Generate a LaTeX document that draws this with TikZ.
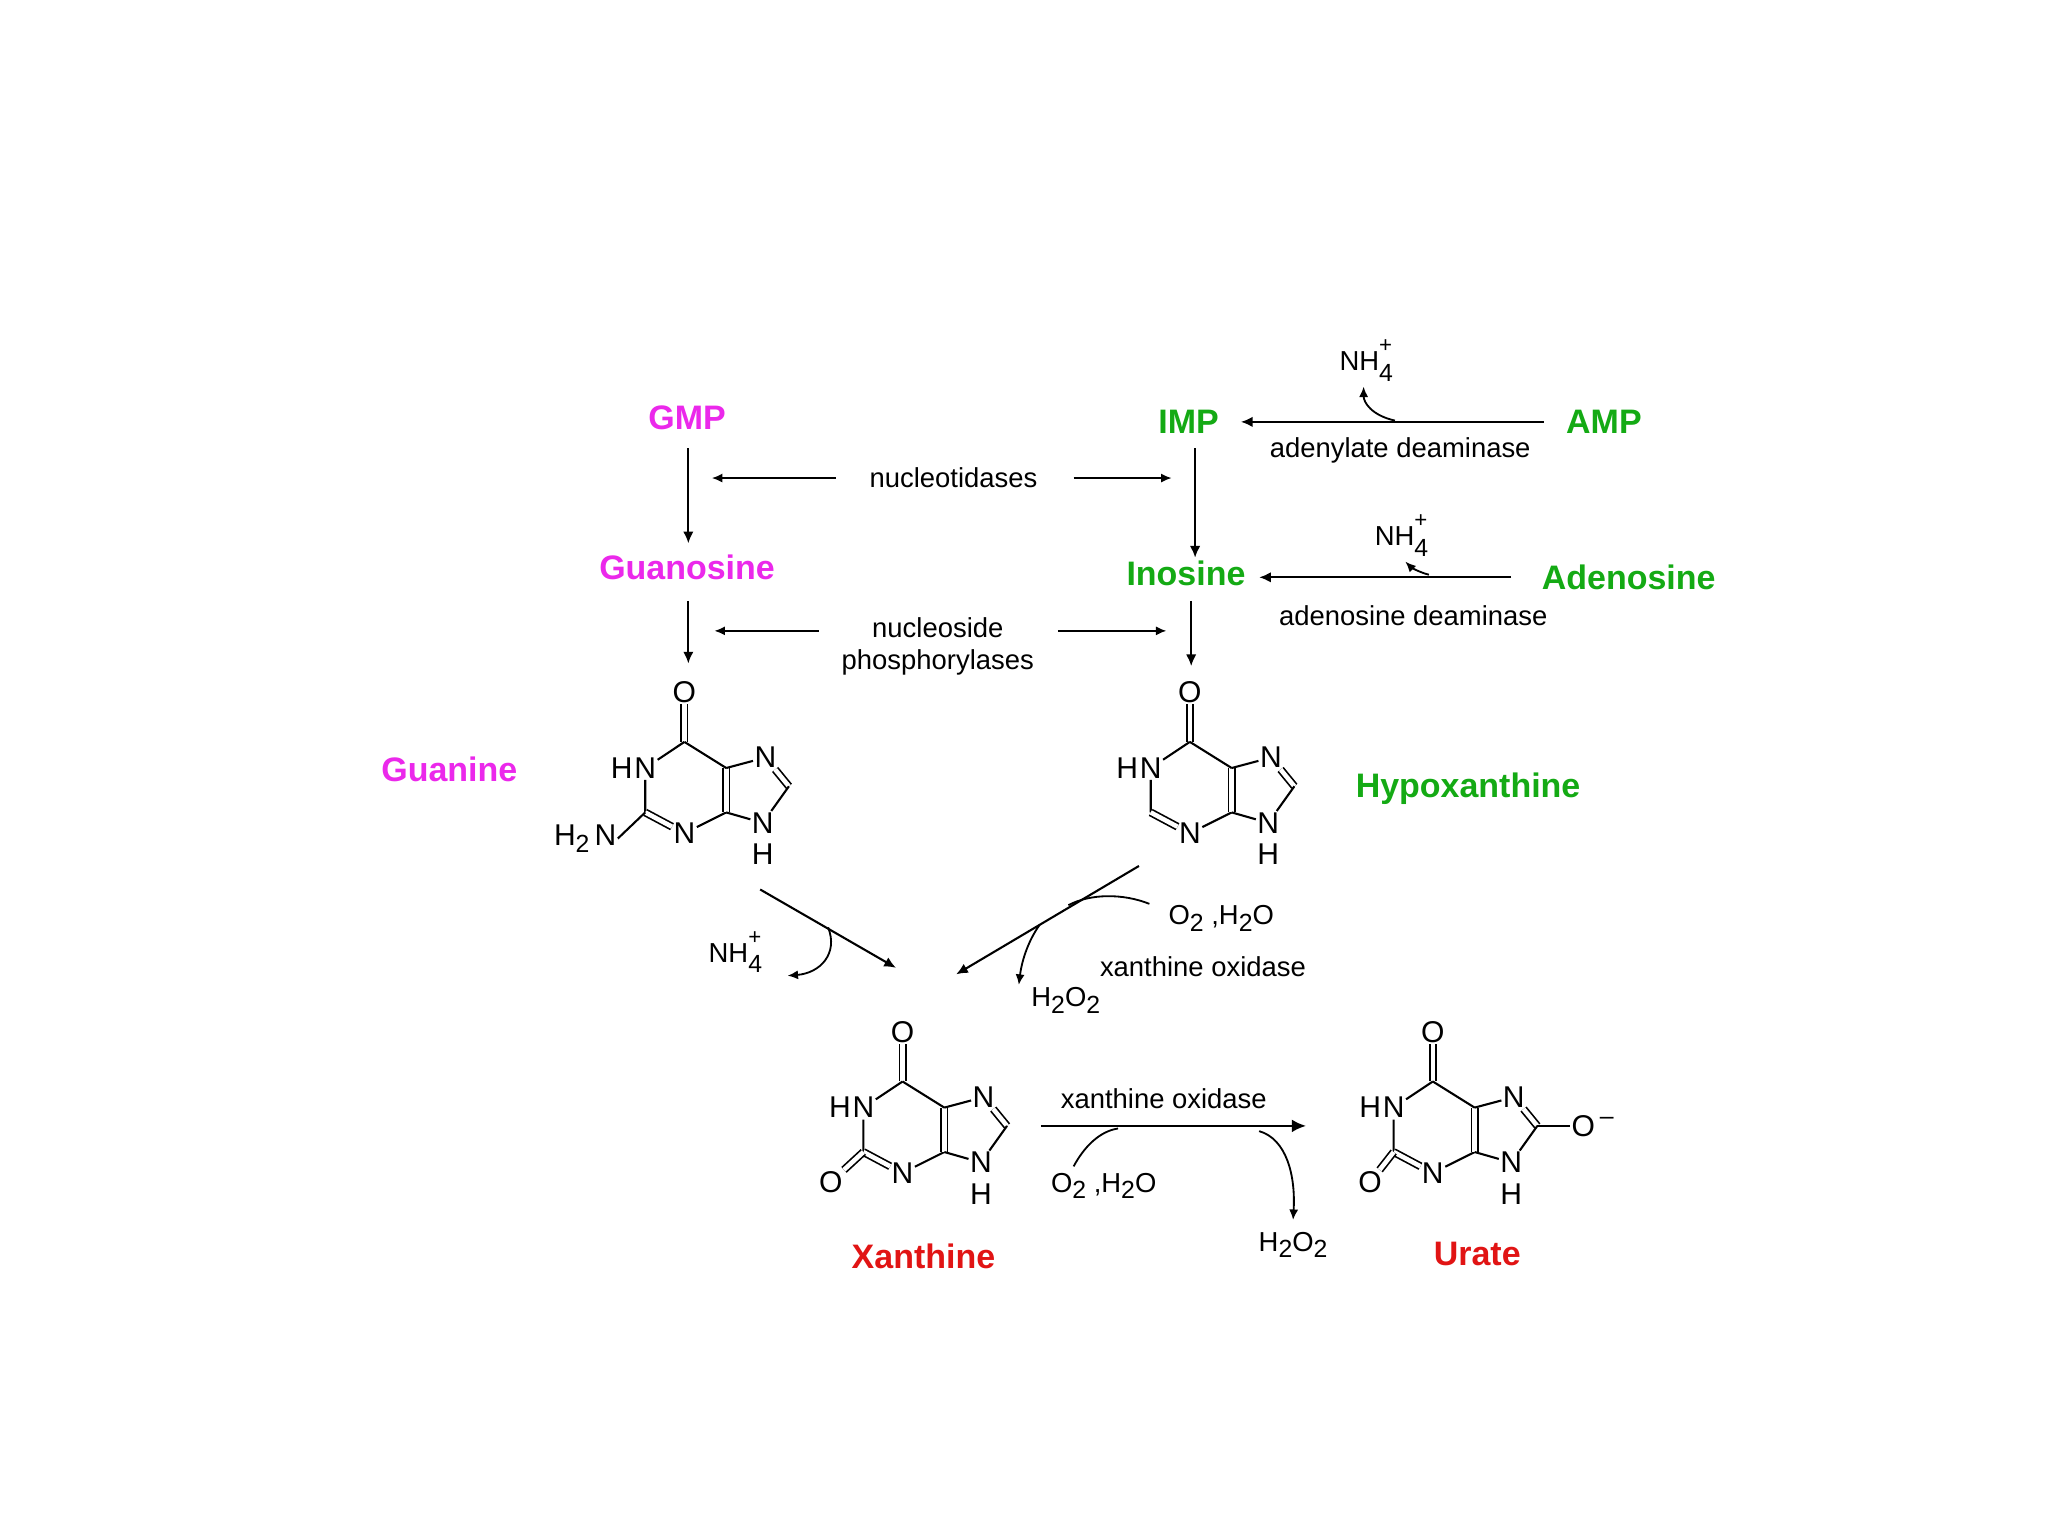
\documentclass[tikz,border=0pt]{standalone}
\usepackage{fontspec}
\setmainfont{Liberation Sans}
\usetikzlibrary{arrows.meta}
\definecolor{mag}{RGB}{235,40,235}
\definecolor{grn}{RGB}{20,170,20}
\definecolor{rd}{RGB}{225,20,20}
\newcommand\sbs[1]{\raisebox{-0.45ex}{\fontsize{19}{19}\selectfont #1}}
\newcommand\sps[1]{\raisebox{0.75ex}{\fontsize{19}{19}\selectfont #1}}
\newcommand\nhq{NH\rlap{\raisebox{1.25ex}{\fontsize{17}{17}\selectfont +}}\raisebox{-0.7ex}{\fontsize{19}{19}\selectfont 4}}
\tikzset{
 x=1pt,y=-1pt,
 atom/.style={inner sep=1pt,font=\fontsize{23}{24}\selectfont},
 txt/.style={inner sep=1pt,font=\fontsize{21}{25}\selectfont,align=center},
 lab/.style={inner sep=1pt,font=\fontsize{26}{28}\selectfont\bfseries},
 bond/.style={line width=1.6pt},
 dbl/.style={line width=1.3pt,double,double distance=3.5pt},
 arr/.style={line width=1.6pt,-{Latex[length=9pt,width=8pt]}},
 thin/.style={line width=1.4pt,-{Latex[length=8pt,width=7pt]}},
}
\newcommand\purine[3]{%
 \begin{scope}[shift={(#2,#3)}]
 \coordinate (#1C6) at (0,0);
 \node[atom] (#1O) at (0,-38) {O};
 \node[atom] (#1N1) at (-30,20) {N};
 \node[atom] (#1H1) at (-48,20) {H};
 \coordinate (#1C2) at (-30,54);
 \node[atom] (#1N3) at (0,70) {N};
 \coordinate (#1C4) at (32,54);
 \coordinate (#1C5) at (32,20);
 \node[atom] (#1N7) at (62,12) {N};
 \coordinate (#1C8) at (80,34);
 \node[atom] (#1N9) at (60,62) {N};
 \node[atom] (#1H9) at (60,86) {H};
 \draw[dbl] (#1C6) -- (#1O);
 \draw[bond] (#1C6) -- (#1N1) -- (#1C2);
 \draw[dbl] (#1C2) -- (#1N3);
 \draw[bond] (#1N3) -- (#1C4);
 \draw[dbl] (#1C4) -- (#1C5);
 \draw[bond] (#1C5) -- (#1C6) (#1C5) -- (#1N7);
 \draw[dbl] (#1N7) -- (#1C8);
 \draw[bond] (#1C8) -- (#1N9) -- (#1C4);
 \end{scope}}
\begin{document}
\begin{tikzpicture}
\fill[white] (0,0) rectangle (1568,1176);
\useasboundingbox (0,0) rectangle (1568,1176);
% top
\node[lab,mag] (GMP) at (526,320) {GMP};
\node[lab,grn] (IMP) at (910,323) {IMP};
\node[lab,grn] (AMP) at (1228,323) {AMP};
\coordinate (a1) at (1182,323); \coordinate (a2) at (950,323);
\draw[arr] (a1) -- (a2);
\node[txt] (nh1) at (1046,276) {\nhq};
\draw[thin] (1068,322) .. controls (1050,318) and (1044,308) .. (1044,296);
\node[txt] (add) at (1072,345) {adenylate deaminase};
\node[lab,mag] (Guo) at (526,434) {Guanosine};
\node[lab,grn] (Ino) at (908,439) {Inosine};
\node[lab,grn] (Ado) at (1247,442) {Adenosine};
\coordinate (b1) at (527,343); \coordinate (b2) at (527,416);
\draw[arr] (b1) -- (b2);
\coordinate (c1) at (915,343); \coordinate (c2) at (915,427);
\draw[arr] (c1) -- (c2);
\node[txt] (nt) at (730,366) {nucleotidases};
\coordinate (n1) at (640,366); \coordinate (n2) at (545,366);
\coordinate (n3) at (822,366); \coordinate (n4) at (897,366);
\draw[thin] (n1) -- (n2);
\draw[thin] (n3) -- (n4);
\coordinate (d1) at (1157,442); \coordinate (d2) at (964,442);
\draw[arr] (d1) -- (d2);
\node[txt] (nh2) at (1073,410) {\nhq};
\draw[thin] (1094,440) .. controls (1086,438) and (1080,434) .. (1076,430);
\node[txt] (ada) at (1082,471) {adenosine deaminase};
\node[txt,font=\fontsize{21}{24}\selectfont] (np) at (718,495) {nucleoside\\phosphorylases};
\coordinate (p1) at (627,483); \coordinate (p2) at (547,483);
\coordinate (p3) at (810,483); \coordinate (p4) at (893,483);
\draw[thin] (p1) -- (p2);
\draw[thin] (p3) -- (p4);
% purines
\purine{g}{524}{568}
\purine{h}{911}{568}
\purine{x}{691}{828}
\purine{u}{1097}{828}
\coordinate (e1) at (527,460); \coordinate (e2) at (527,508);
\draw[arr] (e1) -- (e2);
\coordinate (f1) at (912,460); \coordinate (f2) at (912,510);
\draw[arr] (f1) -- (f2);
\node[atom] (gNH2) at (448,642) {H\sbs{2}\,N};
\draw[bond] (gC2) -- (gNH2.east);
\node[atom] (xO2) at (636,905) {O};
\draw[dbl] (xC2) -- (xO2);
\node[atom] (uO2) at (1049,905) {O};
\draw[dbl] (uC2) -- (uO2);
\node[atom,anchor=west] (uO8) at (1202,862) {O\,\sps{--}};
\draw[bond] (uC8) -- (1202,862);
\node[lab,mag] (Gua) at (344,589) {Guanine};
\node[lab,grn] (Hyp) at (1124,604) {Hypoxanthine};
\node[lab,rd] (Xan) at (707,962) {Xanthine};
\node[lab,rd] (Ura) at (1131,960) {Urate};
% guanine -> xanthine
\coordinate (gs) at (582,681);
\coordinate (gt) at (686,741);
\draw[arr] (gs) -- (gt);
\node[txt] (nh3) at (563,729) {\nhq};
\draw[thin] (634,710) .. controls (642,730) and (628,745) .. (603,747);
% hypoxanthine -> xanthine
\coordinate (hs) at (872,663);
\coordinate (ht) at (732,746);
\draw[arr] (hs) -- (ht);
\node[txt] (o2a) at (935,703) {O\sbs{2} ,H\sbs{2}O};
\draw[line width=1.4pt] (880,692) .. controls (860,684) and (835,684) .. (818,693);
\node[txt] (h2o2a) at (816,766) {H\sbs{2}O\sbs{2}};
\draw[thin] (796,708) .. controls (786,722) and (782,738) .. (780,754);
\node[txt] (xo1) at (921,740) {xanthine oxidase};
% xanthine -> urate
\coordinate (xs) at (797,862);
\coordinate (xt) at (1000,862);
\draw[line width=2pt,-{Latex[length=11pt,width=10pt]}] (xs) -- (xt);
\node[txt] (xo2) at (891,841) {xanthine oxidase};
\node[txt] (o2b) at (845,908) {O\sbs{2} ,H\sbs{2}O};
\draw[line width=1.4pt] (822,893) .. controls (830,878) and (842,866) .. (856,864);
\node[txt] (h2o2b) at (990,953) {H\sbs{2}O\sbs{2}};
\draw[thin] (964,866) .. controls (985,872) and (992,900) .. (990,934);
\end{tikzpicture}
\end{document}
